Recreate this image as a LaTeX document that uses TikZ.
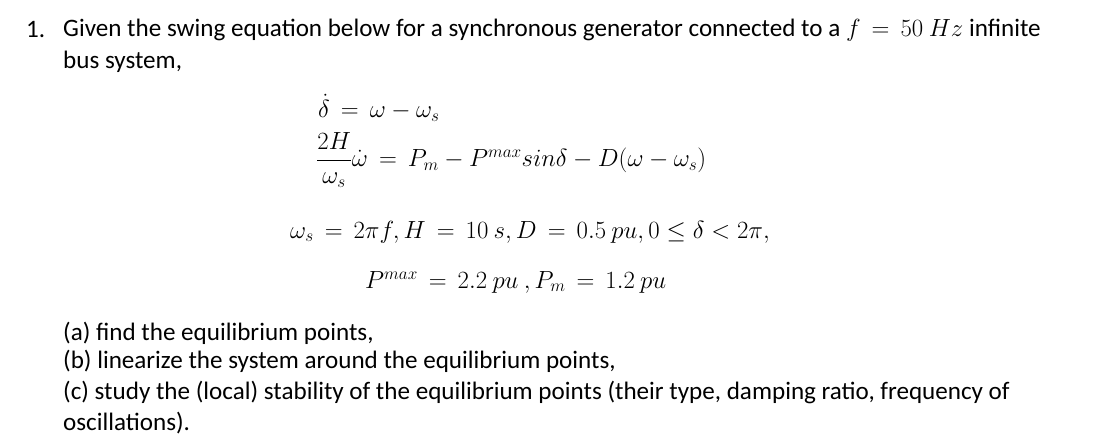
\documentclass[tikz,border=0pt]{standalone}
\usepackage{amsmath}
\usepackage{fontspec}
\setmainfont{Carlito}
\begin{document}
\begin{tikzpicture}[x=1bp,y=-1bp,
  txt/.style={anchor=west,inner sep=0pt,font=\fontsize{25.2}{28}\selectfont},
  mth/.style={anchor=west,inner sep=0pt,font=\fontsize{23.5}{28}\selectfont}]
\useasboundingbox (0,0) rectangle (1118,447);
\node[txt] (n1) at (26,30) {1.};
\node[txt] (l1) at (63,30) {Given the swing equation below for a synchronous generator connected to a $f\,=\,50\ Hz$ infinite};
\node[txt] (l2) at (63,62) {bus system,};
\node[mth] (e1) at (318,108) {$\dot{\delta}\,=\,\omega-\omega_s$};
\node[mth] (e2) at (316,160) {$\dfrac{2H}{\omega_s}\dot{\omega}\,=\,P_m-P^{max}sin\delta-D(\omega-\omega_s)$};
\node[mth] (e3) at (290,232) {$\omega_s\,=\,2\pi f, H\,=\,10\ s, D\,=\,0.5\ pu, 0\le\delta<2\pi,$};
\node[mth] (e4) at (365,282) {$P^{max}\,=\,2.2\ pu\ , P_m\,=\,1.2\ pu$};
\node[txt] (a) at (63,333) {(a) find the equilibrium points,};
\node[txt] (b) at (63,361) {(b) linearize the system around the equilibrium points,};
\node[txt] (c) at (63,392) {(c) study the (local) stability of the equilibrium points (their type, damping ratio, frequency of};
\node[txt] (d) at (63,423) {oscillations).};
\end{tikzpicture}
\end{document}
